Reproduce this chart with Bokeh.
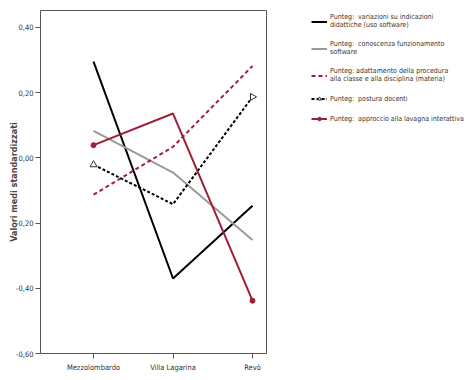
import math
from bokeh.plotting import figure
from bokeh.models import Range1d, Legend, LegendItem, FixedTicker, ColumnDataSource
from bokeh.embed import file_html
from bokeh.resources import INLINE

cities = ["Mezzolombardo", "Villa Lagarina", "Revò"]
xpos = [0, 1, 2]

variazioni = [0.295, -0.370, -0.147]
conoscenza = [0.083, -0.045, -0.252]
adattamento = [-0.113, 0.034, 0.282]
postura = [-0.021, -0.142, 0.187]
approccio = [0.039, 0.136, -0.438]

yticks = [-0.6, -0.4, -0.2, 0.0, 0.2, 0.4]
ytick_labels = ["-0,60", "-0,40", "-0,20", "0,00", "0,20", "0,40"]

labels = [
    "Punteg:  variazioni su indicazioni\ndidattiche (uso software)",
    "Punteg:  conoscenza funzionamento\nsoftware",
    "Punteg: adattamento della procedura\nalla classe e alla disciplina (materia)",
    "Punteg:  postura docenti",
    "Punteg:  approccio alla lavagna interattiva",
]

RED = "#9e1f37"
GRAY = "#9a9a9a"
FONT = "DejaVu Sans Condensed"

FW, FH = 226, 343

p = figure(frame_width=FW, frame_height=FH, min_border_left=40, min_border_top=10,
           min_border_right=0, min_border_bottom=10,
           output_backend="svg", toolbar_location=None,
           x_range=Range1d(-0.667, 2.176), y_range=Range1d(-0.60, 0.452))
p.background_fill_color = "white"
p.border_fill_color = "white"
p.outline_line_color = "#555555"
p.outline_line_width = 1
p.xgrid.visible = False
p.ygrid.visible = False

ends = [0, 2]
post_src = ColumnDataSource(dict(x=[xpos[i] for i in ends], y=[postura[i] for i in ends],
                                 a=[0.0, -math.pi / 2]))
appr_src = ColumnDataSource(dict(x=[xpos[i] for i in ends], y=[approccio[i] for i in ends]))

r1 = p.line(xpos, variazioni, line_color="black", line_width=2)
r2 = p.line(xpos, conoscenza, line_color=GRAY, line_width=2)
r3 = p.line(xpos, adattamento, line_color=RED, line_width=2, line_dash="4 3")
r4 = p.line(xpos, postura, line_color="black", line_width=2, line_dash="3 2")
r4m = p.scatter("x", "y", source=post_src, marker="triangle", size=7, angle="a",
                fill_color="white", line_color="#333333", line_width=1)
r5 = p.line(xpos, approccio, line_color=RED, line_width=2)
r5m = p.scatter("x", "y", source=appr_src, marker="circle", size=5,
                fill_color=RED, line_color=RED)

p.xaxis.ticker = FixedTicker(ticks=xpos)
p.xaxis.major_label_overrides = {x: c for x, c in zip(xpos, cities)}
p.yaxis.ticker = FixedTicker(ticks=yticks)
p.yaxis.major_label_overrides = {t: l for t, l in zip(yticks, ytick_labels)}
p.yaxis.axis_label = "Valori medi standardizzati"
p.yaxis.axis_label_text_font = FONT
p.yaxis.axis_label_text_font_style = "bold"
p.yaxis.axis_label_text_font_size = "9px"
p.yaxis.axis_label_standoff = -6
for ax in (p.xaxis[0], p.yaxis[0]):
    ax.major_label_text_font = FONT
    ax.major_label_text_font_size = "7.5px"
    ax.major_label_text_color = "#333333"
    ax.axis_line_color = None
    ax.major_tick_line_color = "#555555"
    ax.major_tick_in = 0
    ax.major_tick_out = 5
    ax.minor_tick_line_color = None
    ax.major_label_standoff = 2
p.xaxis.major_label_standoff = 4

legend = Legend(items=[
    LegendItem(label=labels[0], renderers=[r1]),
    LegendItem(label=labels[1], renderers=[r2]),
    LegendItem(label=labels[2], renderers=[r3]),
    LegendItem(label=labels[3], renderers=[r4, r4m]),
    LegendItem(label=labels[4], renderers=[r5, r5m]),
], location=(45, 230))
legend.border_line_color = None
legend.background_fill_alpha = 0
legend.padding = 2
legend.margin = 23
legend.spacing = 11
legend.glyph_width = 16
legend.glyph_height = 9
legend.label_standoff = 3
legend.label_text_font = FONT
legend.label_text_font_size = "7px"
legend.label_text_color = "#333333"
legend.label_height = 9
legend.label_text_line_height = 1.6
p.add_layout(legend, "right")

open("out.html", "w").write(file_html(p, INLINE))
